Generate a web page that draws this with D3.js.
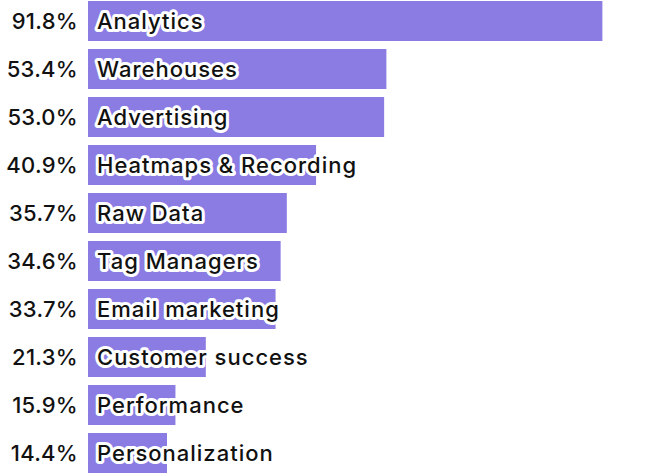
<!DOCTYPE html>
<html>
<head>
<meta charset="utf-8">
<script src="https://cdn.jsdelivr.net/npm/d3@7"></script>
<style>
  html, body { margin: 0; padding: 0; background: #fff; }
  svg { display: block; }
  text { font-family: Inter, "Noto Sans", sans-serif; }
</style>
</head>
<body>
<svg id="chart" width="654" height="473"></svg>
<script>
const categories = ["Analytics", "Warehouses", "Advertising", "Heatmaps & Recording", "Raw Data", "Tag Managers", "Email marketing", "Customer success", "Performance", "Personalization"];
const values = [91.8, 53.4, 53.0, 40.9, 35.7, 34.6, 33.7, 21.3, 15.9, 14.4];
const valueLabels = ["91.8%", "53.4%", "53.0%", "40.9%", "35.7%", "34.6%", "33.7%", "21.3%", "15.9%", "14.4%"];

const data = categories.map((c, i) => ({ cat: c, val: values[i], label: valueLabels[i] }));

const svg = d3.select("#chart");
const barLeft = 88;
const x = d3.scaleLinear().domain([0, 100]).range([86, 648.5]);
const y = d3.scaleBand().domain(categories).range([1, 473]).paddingInner(8 / 48).paddingOuter(0);

svg.selectAll("rect.bar").data(data).join("rect")
  .attr("class", "bar")
  .attr("x", barLeft)
  .attr("y", d => y(d.cat))
  .attr("width", d => x(d.val) - barLeft)
  .attr("height", y.bandwidth())
  .attr("fill", "#8a7ce2");

svg.selectAll("text.val").data(data).join("text")
  .attr("class", "val")
  .attr("x", 78)
  .attr("y", d => y(d.cat) + y.bandwidth() / 2 + 8)
  .attr("text-anchor", "end")
  .attr("font-size", 22)
  .attr("font-weight", 500)
  .attr("letter-spacing", 0.3)
  .attr("fill", "#111")
  .text(d => d.label);

svg.selectAll("text.cat").data(data).join("text")
  .attr("class", "cat")
  .attr("x", barLeft + 9)
  .attr("y", d => y(d.cat) + y.bandwidth() / 2 + 8)
  .attr("font-size", 22)
  .attr("font-weight", 500)
  .attr("letter-spacing", 1)
  .attr("fill", "#111")
  .attr("stroke", "#fff")
  .attr("stroke-width", 6)
  .attr("stroke-linejoin", "round")
  .attr("paint-order", "stroke")
  .text(d => d.cat);
</script>
</body>
</html>
